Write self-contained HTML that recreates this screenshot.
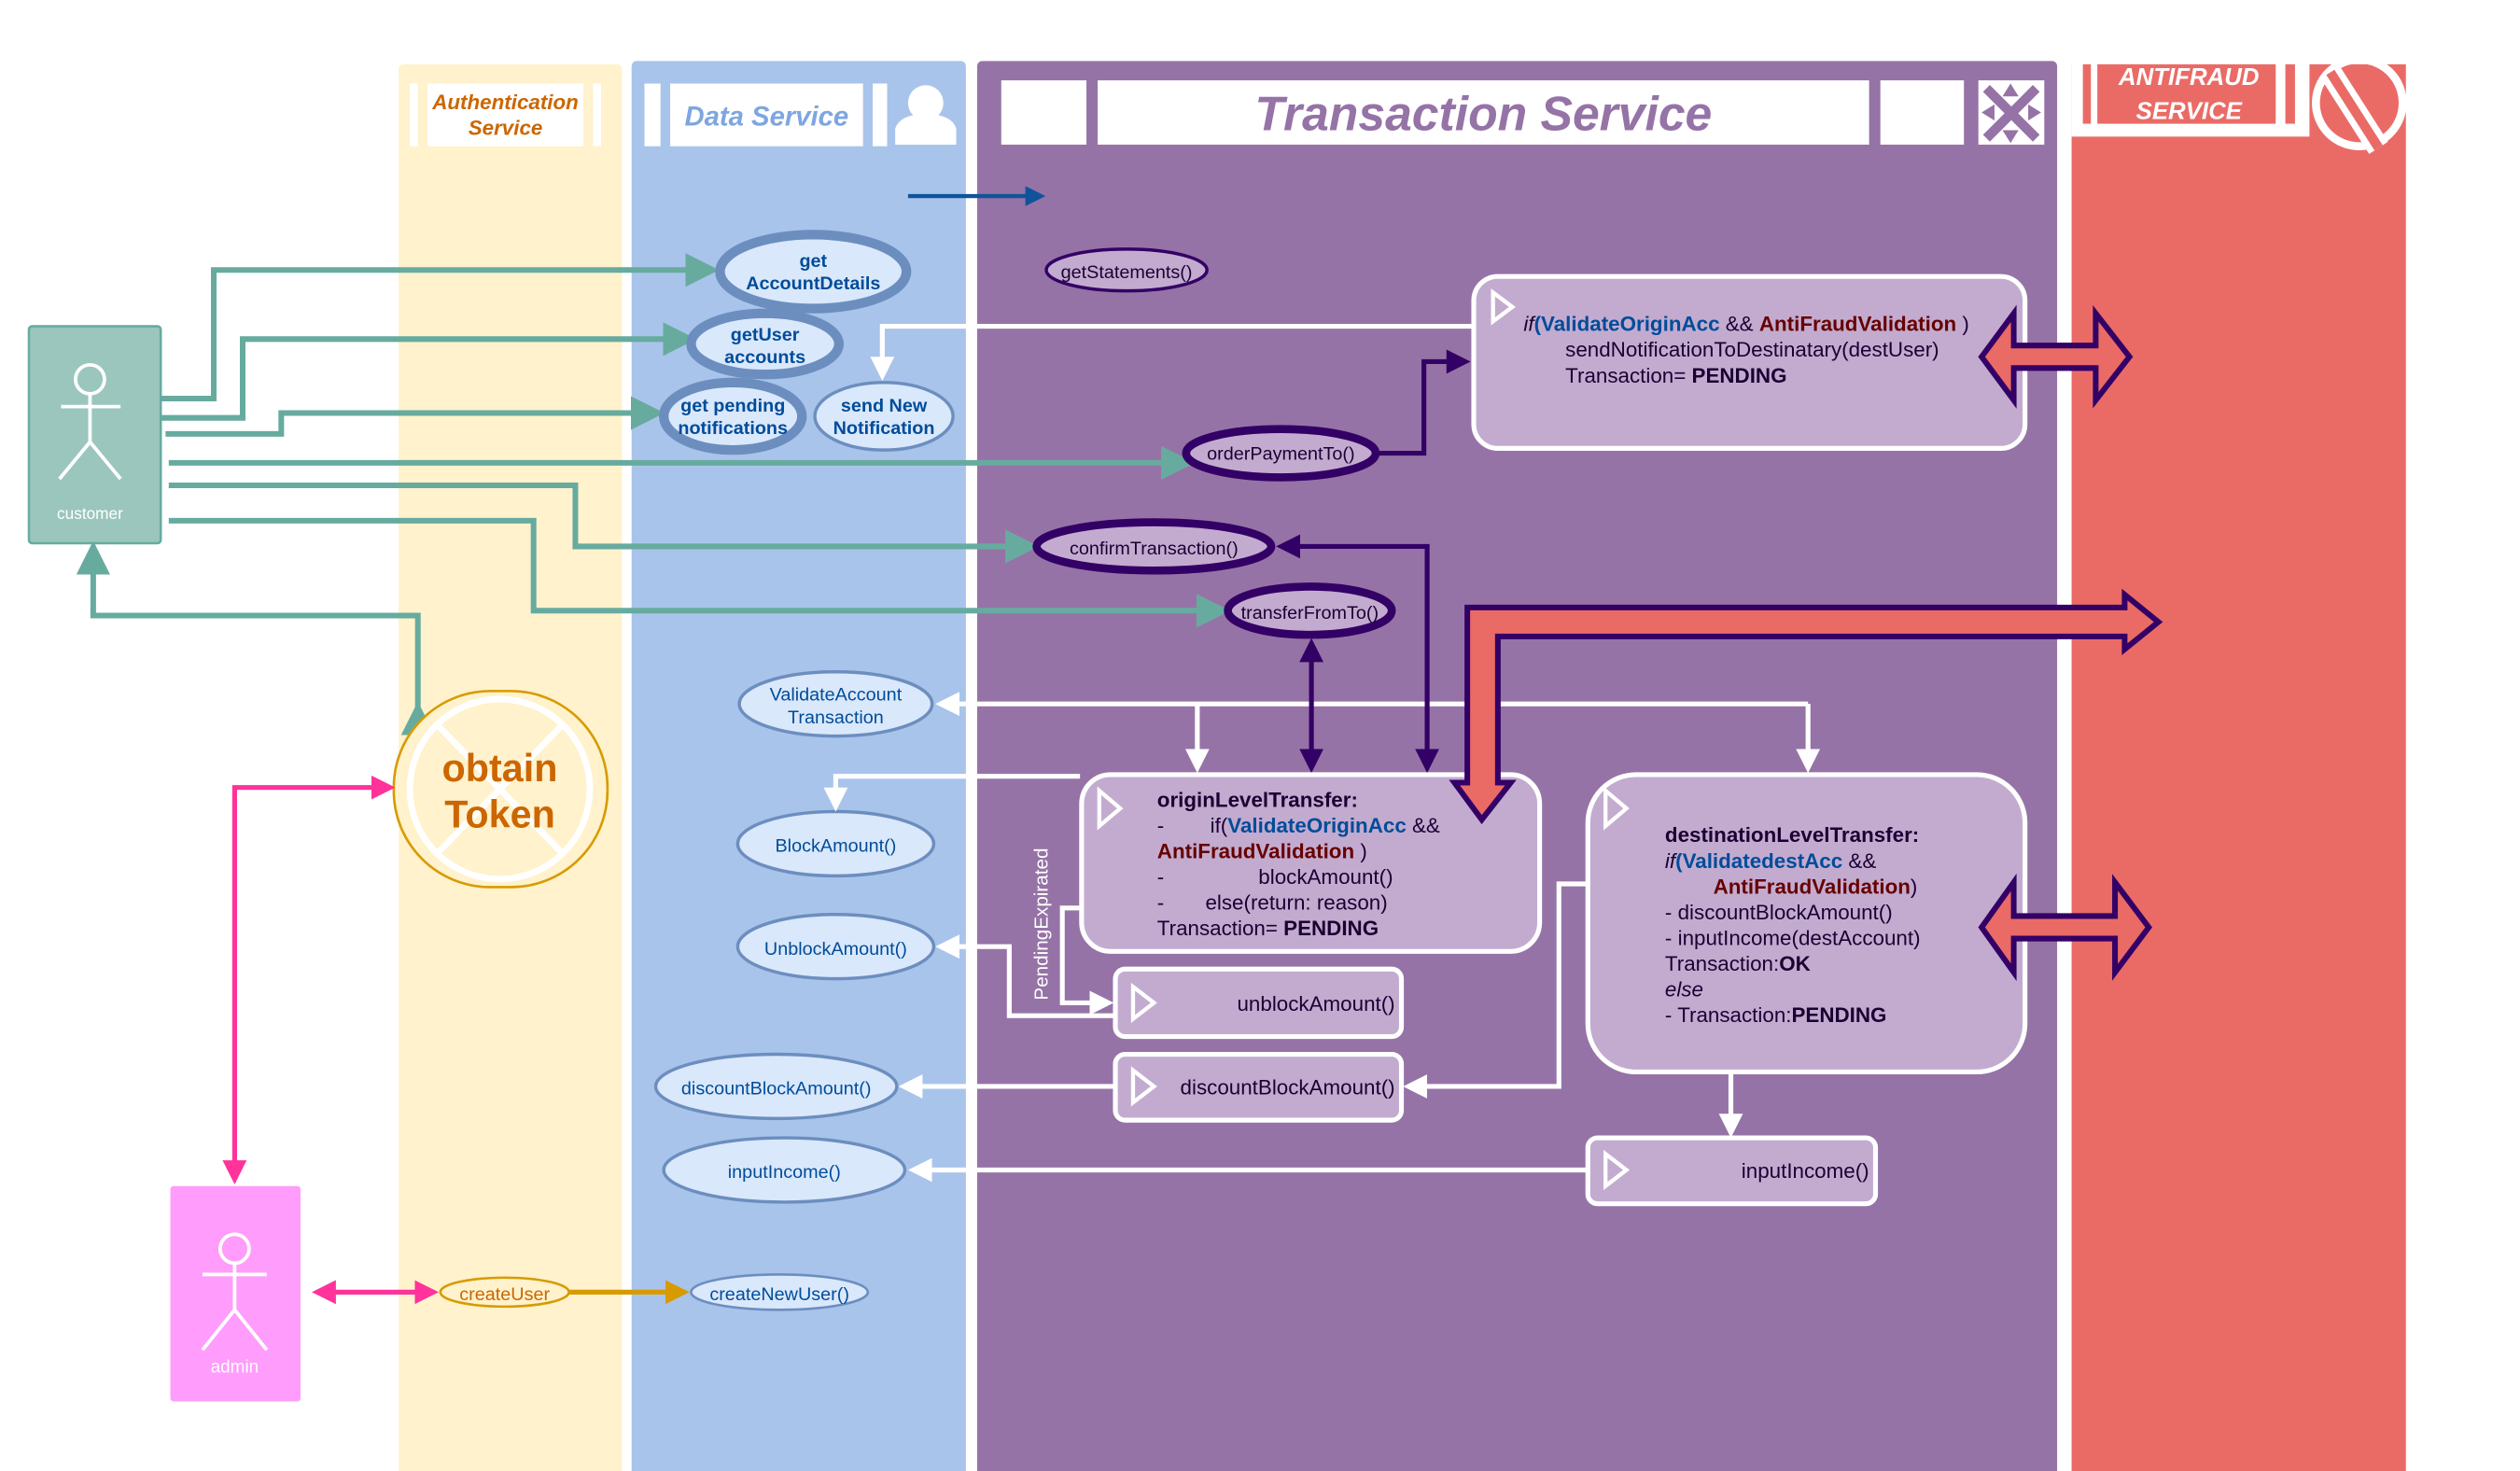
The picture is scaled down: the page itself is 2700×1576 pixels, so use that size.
<!DOCTYPE html>
<html><head><meta charset="utf-8"><style>
html,body{margin:0;padding:0;background:#fff;}
svg{display:block;}
text{font-family:"Liberation Sans",sans-serif;}
</style></head><body>
<svg width="2700" height="1576" viewBox="0 0 1568 915.3" preserveAspectRatio="none" xmlns="http://www.w3.org/2000/svg">
<defs>
<marker id="at" markerWidth="6" markerHeight="6" refX="5" refY="3" orient="auto" markerUnits="strokeWidth"><path d="M0,0 L6,3 L0,6 z" fill="#67ab9f"/></marker>
<marker id="aw" markerWidth="5" markerHeight="5" refX="4" refY="2.5" orient="auto" markerUnits="strokeWidth"><path d="M0,0 L5,2.5 L0,5 z" fill="#fff"/></marker>
<marker id="ap" markerWidth="5" markerHeight="5" refX="4" refY="2.5" orient="auto" markerUnits="strokeWidth"><path d="M0,0 L5,2.5 L0,5 z" fill="#330066"/></marker>
<marker id="apS" markerWidth="5" markerHeight="5" refX="1" refY="2.5" orient="auto" markerUnits="strokeWidth"><path d="M5,0 L0,2.5 L5,5 z" fill="#330066"/></marker>
<marker id="ak" markerWidth="5" markerHeight="5" refX="4" refY="2.5" orient="auto" markerUnits="strokeWidth"><path d="M0,0 L5,2.5 L0,5 z" fill="#ff3399"/></marker>
<marker id="akS" markerWidth="5" markerHeight="5" refX="1" refY="2.5" orient="auto" markerUnits="strokeWidth"><path d="M5,0 L0,2.5 L5,5 z" fill="#ff3399"/></marker>
<marker id="ao" markerWidth="5" markerHeight="5" refX="4" refY="2.5" orient="auto" markerUnits="strokeWidth"><path d="M0,0 L5,2.5 L0,5 z" fill="#d79b00"/></marker>
<marker id="ab" markerWidth="5" markerHeight="5" refX="4" refY="2.5" orient="auto" markerUnits="strokeWidth"><path d="M0,0 L5,2.5 L0,5 z" fill="#10539a"/></marker>
</defs>

<rect x="248" y="40" width="139" height="880" fill="#fff2cc" rx="3"/>
<rect x="393" y="38" width="208" height="880" fill="#a9c4eb" rx="3"/>
<rect x="608" y="38" width="672" height="880" fill="#9673a6" rx="3"/>
<rect x="1289" y="40" width="208" height="880" fill="#ea6b66"/>

<rect x="255" y="52" width="5" height="39" fill="#fff"/>
<rect x="266" y="52" width="97" height="39" fill="#fff"/>
<rect x="369" y="52" width="5" height="39" fill="#fff"/>
<text x="314.5" y="68" font-size="13" font-weight="bold" font-style="italic" fill="#cc6600" text-anchor="middle">Authentication</text>
<text x="314.5" y="84" font-size="13" font-weight="bold" font-style="italic" fill="#cc6600" text-anchor="middle">Service</text>

<rect x="401" y="52" width="10" height="39" fill="#fff"/>
<rect x="417" y="52" width="120" height="39" fill="#fff"/>
<rect x="543" y="52" width="9" height="39" fill="#fff"/>
<circle cx="576" cy="64" r="11" fill="#fff"/>
<path d="M557,90 L557,80 Q560,71 576,71 Q592,71 595,80 L595,90 z" fill="#fff"/>
<text x="477" y="78" font-size="17" font-weight="bold" font-style="italic" fill="#7ea6e0" text-anchor="middle">Data Service</text>

<rect x="623" y="50" width="53" height="40" fill="#fff"/>
<rect x="683" y="50" width="480" height="40" fill="#fff"/>
<rect x="1170" y="50" width="52" height="40" fill="#fff"/>
<rect x="1231" y="50" width="41" height="40" fill="#fff"/>
<path d="M1236,55 L1267,86 M1267,55 L1236,86" stroke="#9673a6" stroke-width="6"/>
<path d="M1251,52 L1246,60 L1256,60 z M1251,89 L1246,81 L1256,81 z M1233,70 L1241,65 L1241,75 z M1270,70 L1262,65 L1262,75 z" fill="#9673a6"/>
<text x="923" y="81" font-size="30" font-weight="bold" font-style="italic" fill="#9673a6" text-anchor="middle">Transaction Service</text>

<rect x="1289" y="38" width="148" height="47" fill="#fff"/>
<rect x="1296" y="40" width="5" height="37" fill="#ea6b66"/>
<rect x="1305" y="40" width="111" height="37" fill="#ea6b66"/>
<rect x="1422" y="40" width="6" height="37" fill="#ea6b66"/>
<text x="1362" y="53" font-size="15" font-weight="bold" font-style="italic" fill="#fff" text-anchor="middle">ANTIFRAUD</text>
<text x="1362" y="74" font-size="15" font-weight="bold" font-style="italic" fill="#fff" text-anchor="middle">SERVICE</text>
<circle cx="1468" cy="64" r="27" fill="none" stroke="#fff" stroke-width="5"/>
<path d="M1450,45 L1480,92" stroke="#fff" stroke-width="14"/>
<path d="M1450,45 L1480,92" stroke="#ea6b66" stroke-width="6"/>

<line x1="565" y1="122" x2="648" y2="122" stroke="#10539a" stroke-width="2.5" marker-end="url(#ab)"/>

<rect x="18" y="203" width="82" height="135" fill="#9ac6bd" stroke="#67ab9f" stroke-width="1.5" rx="2"/>
<g stroke="#fff" stroke-width="2.2" fill="none">
<circle cx="56" cy="236" r="9"/>
<line x1="56" y1="245" x2="56" y2="275"/>
<line x1="38" y1="253" x2="75" y2="253"/>
<path d="M37,298 L56,275 L75,298"/>
</g>
<text x="56" y="323" font-size="10" fill="#fff" text-anchor="middle" font-family="Liberation Mono,monospace">customer</text>

<g stroke="#67ab9f" stroke-width="3.5" fill="none">
<path d="M100,248 H133 V168 H444" marker-end="url(#at)"/>
<path d="M100,260 H151 V211 H430" marker-end="url(#at)"/>
<path d="M103,270 H175 V257 H410" marker-end="url(#at)"/>
<path d="M105,288 H740" marker-end="url(#at)"/>
<path d="M105,302 H358 V340 H643" marker-end="url(#at)"/>
<path d="M105,324 H332 V380 H762" marker-end="url(#at)"/>
<path d="M260,440 V383 H58 V340" marker-end="url(#at)" marker-start="url(#at)"/>
</g>

<g fill="#dae8fc" stroke="#6c8ebf">
<ellipse cx="506" cy="169" rx="58" ry="23" stroke-width="6"/>
<ellipse cx="476" cy="214" rx="46" ry="19" stroke-width="6"/>
<ellipse cx="456" cy="259" rx="43" ry="21" stroke-width="6"/>
<ellipse cx="550" cy="259" rx="43" ry="21" stroke-width="2"/>
<ellipse cx="520" cy="438" rx="60" ry="20" stroke-width="2"/>
<ellipse cx="520" cy="525" rx="61" ry="20" stroke-width="2"/>
<ellipse cx="520" cy="589" rx="61" ry="20" stroke-width="2"/>
<ellipse cx="483" cy="676" rx="75" ry="20" stroke-width="2"/>
<ellipse cx="488" cy="728" rx="75" ry="20" stroke-width="2"/>
<ellipse cx="485" cy="804" rx="55" ry="11" stroke-width="1.5"/>
</g>
<g font-size="11.5" font-weight="bold" fill="#004c99" text-anchor="middle">
<text x="506" y="166">get</text><text x="506" y="180">AccountDetails</text>
<text x="476" y="212">getUser</text><text x="476" y="226">accounts</text>
<text x="456" y="256">get pending</text><text x="456" y="270">notifications</text>
<text x="550" y="256">send New</text><text x="550" y="270">Notification</text>
</g>
<g font-size="11.5" fill="#004c99" text-anchor="middle">
<text x="520" y="436">ValidateAccount</text><text x="520" y="450">Transaction</text>
<text x="520" y="530">BlockAmount()</text>
<text x="520" y="594">UnblockAmount()</text>
<text x="483" y="681">discountBlockAmount()</text>
<text x="488" y="733">inputIncome()</text>
<text x="485" y="809">createNewUser()</text>
</g>

<rect x="245" y="430" width="133" height="122" rx="60" ry="60" fill="#fff2cc" stroke="#d79b00" stroke-width="1.5"/>
<circle cx="311" cy="491" r="56" fill="none" stroke="#fff" stroke-width="4"/>
<path d="M273,452 L349,530 M349,452 L273,530" stroke="#fff" stroke-width="4"/>
<text x="311" y="486" font-size="24" font-weight="bold" fill="#cc6600" text-anchor="middle">obtain</text>
<text x="311" y="515" font-size="24" font-weight="bold" fill="#cc6600" text-anchor="middle">Token</text>

<rect x="106" y="738" width="81" height="134" fill="#ff9cfc" rx="2"/>
<g stroke="#fff" stroke-width="2.2" fill="none">
<circle cx="146" cy="777" r="9"/>
<line x1="146" y1="786" x2="146" y2="815"/>
<line x1="126" y1="793" x2="166" y2="793"/>
<path d="M126,840 L146,815 L166,840"/>
</g>
<text x="146" y="854" font-size="11" fill="#fff" text-anchor="middle">admin</text>
<path d="M243,490 H146 V734" stroke="#ff3399" stroke-width="3" fill="none" marker-end="url(#ak)" marker-start="url(#akS)"/>
<line x1="197" y1="804" x2="270" y2="804" stroke="#ff3399" stroke-width="3" marker-end="url(#ak)" marker-start="url(#akS)"/>
<line x1="354" y1="804" x2="426" y2="804" stroke="#d79b00" stroke-width="3" marker-end="url(#ao)"/>
<ellipse cx="314" cy="804" rx="40" ry="9" fill="#fff2cc" stroke="#d79b00" stroke-width="1.5"/>
<text x="314" y="809" font-size="11.5" fill="#cc6600" text-anchor="middle">createUser</text>

<g stroke="#fff" stroke-width="3" fill="none">
<path d="M917,203 H549 V234" marker-end="url(#aw)"/>
<path d="M1125,438 H585" marker-end="url(#aw)"/>
<path d="M745,438 V478" marker-end="url(#aw)"/>
<path d="M1125,438 V478" marker-end="url(#aw)"/>
<path d="M672,483 H520 V502" marker-end="url(#aw)"/>
<path d="M673,565 H661 V624 H690" marker-end="url(#aw)"/>
<path d="M694,632 H628 V589 H585" marker-end="url(#aw)"/>
<path d="M988,550 H970 V676 H876" marker-end="url(#aw)"/>
<path d="M694,676 H562" marker-end="url(#aw)"/>
<path d="M1077,667 V705" marker-end="url(#aw)"/>
<path d="M988,728 H568" marker-end="url(#aw)"/>
</g>
<text transform="translate(652,575) rotate(-90)" font-size="12" fill="#fff" text-anchor="middle">PendingExpirated</text>

<g stroke="#330066" stroke-width="3" fill="none">
<path d="M858,282 H886 V225 H912" marker-end="url(#ap)"/>
<path d="M888,478 V340 H797" marker-end="url(#ap)" marker-start="url(#apS)"/>
<path d="M816,400 V478" marker-end="url(#ap)" marker-start="url(#apS)"/>
</g>

<g fill="#c3abd0" stroke="#330066">
<ellipse cx="701" cy="168" rx="50" ry="13" stroke-width="2"/>
<ellipse cx="797" cy="282" rx="59" ry="15" stroke-width="5"/>
<ellipse cx="718" cy="340" rx="73" ry="15" stroke-width="5"/>
<ellipse cx="815" cy="380" rx="51" ry="15" stroke-width="5"/>
</g>
<g font-size="11.5" fill="#1a0033" text-anchor="middle">
<text x="701" y="173">getStatements()</text>
<text x="797" y="286">orderPaymentTo()</text>
<text x="718" y="345">confirmTransaction()</text>
<text x="815" y="385">transferFromTo()</text>
</g>

<g fill="#c3abd0" stroke="#fff" stroke-width="3">
<rect x="917" y="172" width="343" height="107" rx="15"/>
<rect x="673" y="482" width="285" height="110" rx="18"/>
<rect x="988" y="482" width="272" height="185" rx="30"/>
<rect x="694" y="603" width="178" height="42" rx="6"/>
<rect x="694" y="656" width="178" height="41" rx="6"/>
<rect x="988" y="708" width="179" height="41" rx="6"/>
</g>
<g fill="none" stroke="#fff" stroke-width="2.5">
<path d="M929,182 L941,191 L929,200 z"/>
<path d="M684,492 L697,503 L684,514 z"/>
<path d="M999,492 L1012,503 L999,514 z"/>
<path d="M705,614 L718,624 L705,634 z"/>
<path d="M705,666 L718,676 L705,686 z"/>
<path d="M999,718 L1012,728 L999,738 z"/>
</g>

<g font-size="13" fill="#1a0033">
<text x="948" y="206"><tspan font-style="italic">if</tspan><tspan fill="#004c99" font-weight="bold">(ValidateOriginAcc</tspan> &amp;&amp; <tspan fill="#660000" font-weight="bold">AntiFraudValidation</tspan> )</text>
<text x="974" y="222">sendNotificationToDestinatary(destUser)</text>
<text x="974" y="238">Transaction= <tspan font-weight="bold">PENDING</tspan></text>

<text x="720" y="502" font-weight="bold">originLevelTransfer:</text>
<text x="720" y="518">-<tspan x="753">if(</tspan><tspan fill="#004c99" font-weight="bold">ValidateOriginAcc</tspan> &amp;&amp;</text>
<text x="720" y="534"><tspan fill="#660000" font-weight="bold">AntiFraudValidation</tspan> )</text>
<text x="720" y="550">-<tspan x="783">blockAmount()</tspan></text>
<text x="720" y="566">-<tspan x="750">else(return: reason)</tspan></text>
<text x="720" y="582">Transaction= <tspan font-weight="bold">PENDING</tspan></text>

<text x="1036" y="524" font-weight="bold">destinationLevelTransfer:</text>
<text x="1036" y="540"><tspan font-style="italic">if</tspan><tspan fill="#004c99" font-weight="bold">(ValidatedestAcc</tspan> &amp;&amp;</text>
<text x="1066" y="556" fill="#660000" font-weight="bold">AntiFraudValidation<tspan fill="#1a0033" font-weight="normal">)</tspan></text>
<text x="1036" y="572">-  discountBlockAmount()</text>
<text x="1036" y="588">- inputIncome(destAccount)</text>
<text x="1036" y="604">Transaction:<tspan font-weight="bold">OK</tspan></text>
<text x="1036" y="620" font-style="italic">else</text>
<text x="1036" y="636">- Transaction:<tspan font-weight="bold">PENDING</tspan></text>

<text x="868" y="629" text-anchor="end">unblockAmount()</text>
<text x="868" y="681" text-anchor="end">discountBlockAmount()</text>
<text x="1163" y="733" text-anchor="end">inputIncome()</text>
</g>

<g fill="#ea6b66" stroke="#330066" stroke-width="3.5" stroke-linejoin="miter">
<path d="M1233,222 L1253,195 L1253,215 L1304,215 L1304,195 L1325,222 L1304,249 L1304,229 L1253,229 L1253,249 z"/>
<path d="M1233,577 L1253,549 L1253,570 L1316,570 L1316,549 L1337,577 L1316,605 L1316,584 L1253,584 L1253,605 z"/>
<path d="M913,487 L913,378 L1322,378 L1322,370 L1343,387 L1322,404 L1322,396 L932,396 L932,487 L940,487 L922,510 L905,487 z"/>
</g>
</svg>
</body></html>
